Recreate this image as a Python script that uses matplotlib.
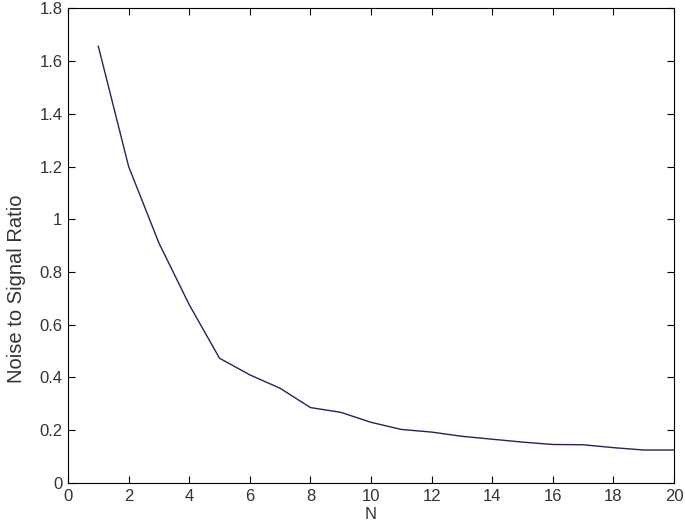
import matplotlib
matplotlib.use("Agg")
import matplotlib.pyplot as plt

N = list(range(1, 21))
nsr = [1.656, 1.200, 0.910, 0.676, 0.473, 0.410, 0.359, 0.286, 0.268, 0.230,
       0.203, 0.193, 0.177, 0.166, 0.155, 0.146, 0.145, 0.134, 0.125, 0.125]
xticks = list(range(0, 21, 2))
yticks = [0, 0.2, 0.4, 0.6, 0.8, 1.0, 1.2, 1.4, 1.6, 1.8]
yticklabels = ["0", "0.2", "0.4", "0.6", "0.8", "1", "1.2", "1.4", "1.6", "1.8"]

plt.rcParams['font.family'] = ['Liberation Sans', 'DejaVu Sans']
fig = plt.figure(figsize=(6.85, 5.3), dpi=100)
ax = fig.add_axes([0.0993, 0.0887, 0.8847, 0.8957])
ax.plot(N, nsr, color='#23235e', linewidth=1.0)
ax.set_xlim(0, 20)
ax.set_ylim(0, 1.8)
ax.set_xticks(xticks)
ax.set_yticks(yticks)
ax.set_yticklabels(yticklabels)
ax.tick_params(direction='in', top=True, right=True, labelsize=12, length=5,
               width=0.8, pad=4, labelcolor='#333333')
for s in ax.spines.values():
    s.set_linewidth(0.8)
ax.set_xlabel("N", fontsize=12, labelpad=2.5, color='#333333')
ax.set_ylabel("Noise to Signal Ratio", fontsize=14.5, color='#333333')
ax.yaxis.set_label_coords(-0.07, 0.41)
fig.savefig("out.png", dpi=100)
